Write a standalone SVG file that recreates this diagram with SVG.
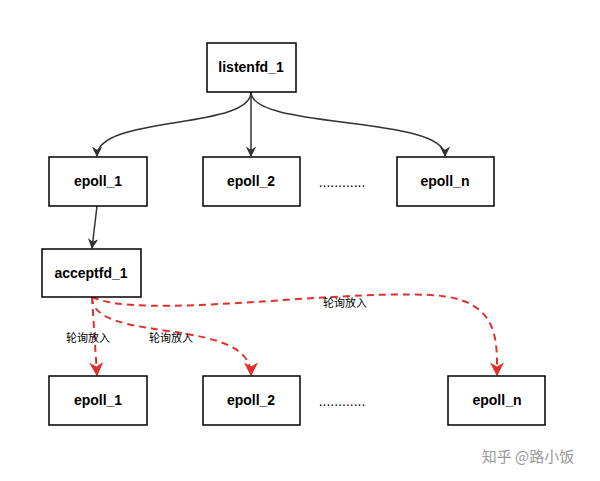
<svg xmlns="http://www.w3.org/2000/svg" width="600" height="481" viewBox="0 0 600 481">
<style>
.n rect{fill:#fff;stroke:#000;stroke-width:1.5}
.n text{font-family:"Liberation Sans",Arial,sans-serif;font-size:14px;font-weight:bold;text-anchor:middle}
.k{fill:none;stroke:#333;stroke-width:1.5}
.r{fill:none;stroke:#e0302c;stroke-width:2;stroke-dasharray:7,5}
.l{font-family:"Noto Sans CJK SC",sans-serif;font-size:11px;text-anchor:middle;fill:#000}
.d{font-family:"Liberation Sans",sans-serif;font-size:14px;text-anchor:middle}
</style>
<defs>
<marker id="a" viewBox="0 0 10 10" refX="9" refY="5" markerWidth="7" markerHeight="7" orient="auto"><path d="M0,0L10,5L0,10L3,5z" fill="#333"/></marker>
<marker id="b" viewBox="0 0 10 10" refX="9" refY="5" markerWidth="7" markerHeight="7" orient="auto"><path d="M0,0L10,5L0,10L3,5z" fill="#e0302c"/></marker>
</defs>
<rect width="600" height="481" fill="#fff"/>
<g id="connectors">
<path class="k" d="M251,92 C251,130 97,115 97,156" marker-end="url(#a)"/>
<path class="k" d="M251,92 L251,156" marker-end="url(#a)"/>
<path class="k" d="M251,92 C251,130 445,115 445,156" marker-end="url(#a)"/>
<path class="k" d="M97,206 L92,248" marker-end="url(#a)"/>
<path class="r" d="M92,297 L97,375" marker-end="url(#b)"/>
<path class="r" d="M92,297 C92,345 251,315 251,375" marker-end="url(#b)"/>
<path class="r" d="M92,297 C140,320 330,290 430,295 C500,298 497,340 497,375" marker-end="url(#b)"/>
<text class="l" x="345" y="307">轮询放入</text>
<text class="l" x="88" y="342">轮询放入</text>
<text class="l" x="171" y="342">轮询放入</text>
</g>
<g id="listenfd_1" class="n"><rect x="207" y="43" width="89" height="49"/><text x="251" y="72">listenfd_1</text></g>
<g id="epoll_1" class="n"><rect x="49" y="157" width="98" height="49"/><text x="98" y="186">epoll_1</text></g>
<g id="epoll_2" class="n"><rect x="203" y="157" width="97" height="49"/><text x="251" y="186">epoll_2</text></g>
<g id="epoll_n" class="n"><rect x="397" y="157" width="97" height="49"/><text x="445" y="186">epoll_n</text></g>
<text class="d" x="342" y="187">............</text>
<g id="acceptfd_1" class="n"><rect x="42" y="249" width="99" height="48"/><text x="91" y="278">acceptfd_1</text></g>
<g id="b_epoll_1" class="n"><rect x="49" y="376" width="98" height="49"/><text x="98" y="405">epoll_1</text></g>
<g id="b_epoll_2" class="n"><rect x="203" y="376" width="97" height="49"/><text x="251" y="405">epoll_2</text></g>
<g id="b_epoll_n" class="n"><rect x="448" y="376" width="97" height="49"/><text x="497" y="405">epoll_n</text></g>
<text class="d" x="342" y="406">............</text>
<text x="528" y="462" font-family="Noto Sans CJK SC,sans-serif" font-size="15" fill="#999" text-anchor="middle">知乎 @路小饭</text>
</svg>
